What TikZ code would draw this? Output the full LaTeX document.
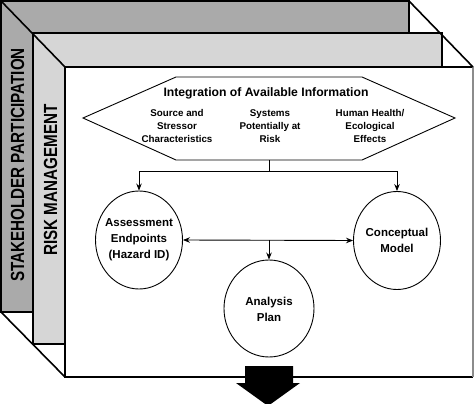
\documentclass[tikz,border=0pt]{standalone}
\usepackage{fontspec}
\setmainfont{Liberation Sans}
\usetikzlibrary{shapes.geometric,arrows.meta}
\definecolor{darkpanel}{RGB}{170,170,170}
\definecolor{lightpanel}{RGB}{214,214,214}
\definecolor{edgegray}{RGB}{140,140,140}
\begin{document}
\begin{tikzpicture}[x=1pt,y=-1pt,
  panel/.style={draw=black,line width=1.6pt},
  sidetext/.style={rotate=90,inner sep=0pt},
  titletext/.style={font=\fontsize{12.2}{14}\selectfont\bfseries,inner sep=0pt},
  subtext/.style={font=\fontsize{9.8}{13}\selectfont\bfseries,align=center,inner sep=0pt},
  circ/.style={ellipse,draw=black,line width=0.9pt,minimum width=87pt,minimum height=98pt,inner sep=0pt},
  ctext/.style={font=\fontsize{11.5}{16}\selectfont\bfseries,align=center,inner sep=0pt},
  conn/.style={line width=0.9pt},
  tip/.tip={Stealth[length=7pt,width=5.5pt]},
  arr/.style={conn,-tip}]
\useasboundingbox (0,0) rectangle (474,404);
\fill[white] (0,0) rectangle (474,404);
% stacked panels
\draw[panel,fill=darkpanel] (1,1) rectangle (409,312);
\draw[panel,fill=lightpanel] (33,33) rectangle (442,344);
\fill[white] (65,67) rectangle (473,377);
\draw[panel] (473,67) -- (65,67) -- (65,377) -- (473,377);
\draw[edgegray,line width=1.6pt] (473,67) -- (473,377);
\draw[panel] (1,1) -- (65,67);
\draw[panel] (409,1) -- (473,67);
\draw[panel] (1,312) -- (65,377);
% side labels
\node[sidetext] (sp) at (17.5,165) {\scalebox{0.8}[1]{\fontsize{19}{19}\selectfont\bfseries STAKEHOLDER PARTICIPATION}};
\node[sidetext] (rm) at (50.5,180) {\scalebox{0.8}[1]{\fontsize{19}{19}\selectfont\bfseries RISK MANAGEMENT}};
% hexagon
\draw[line width=0.9pt] (83,118) -- (176,77) -- (362,77) -- (455,118) -- (362,160) -- (176,160) -- cycle;
\coordinate (hexb) at (269,160);
\node[titletext] (title) at (266,93) {Integration of Available Information};
\node[subtext] (s1) at (177,126) {Source and\\Stressor\\Characteristics};
\node[subtext] (s2) at (270,126) {Systems\\Potentially at\\Risk};
\node[subtext] (s3) at (370,126) {Human Health/\\Ecological\\Effects};
% circles
\node[circ] (ae) at (139,240) {};
\node[ctext] (aet) at (ae) {Assessment\\Endpoints\\(Hazard ID)};
\node[circ] (cm) at (397,240.5) {};
\node[ctext] (cmt) at (cm) {Conceptual\\Model};
\node[circ,minimum width=90pt,minimum height=97pt] (ap) at (269,308.5) {};
\node[ctext] (apt) at ([yshift=-1pt]ap) {Analysis\\Plan};
% connectors
\coordinate (split) at (269,171);
\coordinate (mid) at (269,240);
\draw[conn] (hexb) -- (split);
\draw[arr] (split) -| (ae.north);
\draw[arr] (split) -| (cm.north);
\draw[conn,tip-tip] (ae.east) -- (cm.west);
\draw[arr] (mid) -- (ap.north);
% big arrow
\fill[black] (245,366) -- (293,366) -- (293,383) -- (300,383) -- (268,406) -- (236,383) -- (245,383) -- cycle;
\end{tikzpicture}
\end{document}
